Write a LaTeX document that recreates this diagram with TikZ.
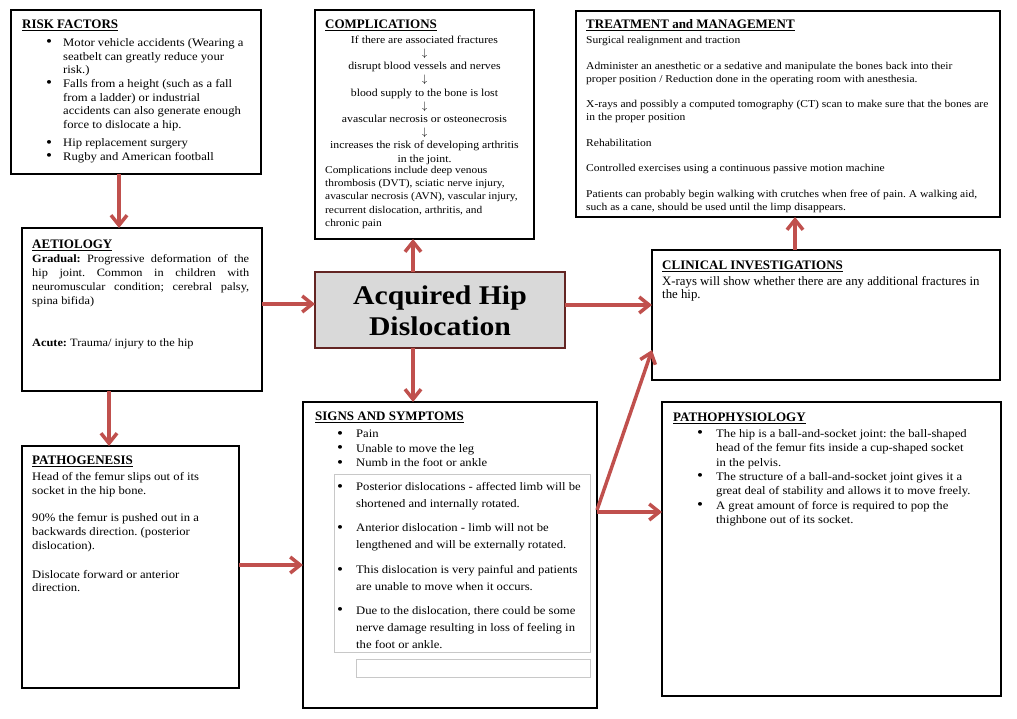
\documentclass[tikz,border=0pt]{standalone}
\usepackage{graphicx}
\usepackage{fontspec}
\setmainfont{Liberation Serif}[FakeStretch=1.1]
\newfontfamily\plainserif{Liberation Serif}
\usetikzlibrary{arrows.meta}
\frenchspacing
\definecolor{arrowred}{HTML}{C0504D}
\definecolor{centerborder}{HTML}{632523}
\definecolor{centerfill}{HTML}{D9D9D9}
\definecolor{thingray}{HTML}{C8C8C8}
\newcommand{\bigbullet}{\raisebox{-0.2pt}{\scalebox{1.35}{\textbullet}}}
\newcommand{\bl}{\makebox[17pt][l]{\bigbullet}}
\newcommand{\ind}{\hspace*{17pt}}
\newcommand{\sbl}{\makebox[19pt][l]{\bigbullet}}
\newcommand{\sind}{\hspace*{19pt}}
\begin{document}
\begin{tikzpicture}[x=1pt,y=-1pt,
  box/.style={draw=black,line width=2.5pt,fill=white,outer sep=0pt,inner sep=0pt,anchor=north west},
  thinbox/.style={draw=thingray,line width=0.8pt,outer sep=0pt,inner sep=0pt,anchor=north west},
  head/.style={anchor=north west,inner sep=0pt,font=\plainserif\fontsize{13}{15}\selectfont\bfseries},
  body/.style={anchor=north west,inner sep=0pt,align=left},
  arr/.style={draw=arrowred,line width=3.5pt,-{Straight Barb[length=10pt,width=16pt]}}
]
\useasboundingbox[fill=white] (0,0) rectangle (1017,719);

% boxes
\node[box,minimum width=250pt,minimum height=164pt] (risk) at (11,10) {};
\node[box,minimum width=219pt,minimum height=229pt] (comp) at (315,10) {};
\node[box,minimum width=424pt,minimum height=206pt] (treat) at (576,11) {};
\node[box,minimum width=240pt,minimum height=163pt] (aet) at (22,228) {};
\node[box,draw=centerborder,fill=centerfill,minimum width=250pt,minimum height=76pt] (center) at (315,272) {};
\node[box,minimum width=348pt,minimum height=130pt] (clin) at (652,250) {};
\node[box,minimum width=217pt,minimum height=242pt] (patho) at (22,446) {};
\node[box,minimum width=294pt,minimum height=306pt] (signs) at (303,402) {};
\node[box,minimum width=339pt,minimum height=294pt] (pphys) at (662,402) {};
\node[thinbox,minimum width=256pt,minimum height=178pt] (signsinner) at (334,474) {};
\node[thinbox,minimum width=234pt,minimum height=18pt] (signsblank) at (356,659) {};

% title
\node[font=\fontsize{27}{31}\selectfont\bfseries,align=center,inner sep=0pt] (title) at (440,311) {Acquired Hip\\Dislocation};

% risk factors
\node[head] (riskhead) at (22,19.5) {\underline{RISK FACTORS}};
\node[body,font=\fontsize{11.5}{13.6}\selectfont] (risktxt) at (46,38.5) {%
\bl Motor vehicle accidents (Wearing a\\
\ind seatbelt can greatly reduce your\\
\ind risk.)\\
\bl Falls from a height (such as a fall\\
\ind from a ladder) or industrial\\
\ind accidents can also generate enough\\
\ind force to dislocate a hip.\\[5pt]
\bl Hip replacement surgery\\
\bl Rugby and American football};

% complications
\node[head] (comphead) at (325,19.5) {\underline{COMPLICATIONS}};
\node[anchor=north,inner sep=0pt,align=center,font=\fontsize{10.7}{13.2}\selectfont] (compchain) at (424.5,35.5) {%
If there are associated fractures\\
$\downarrow$\\
disrupt blood vessels and nerves\\
$\downarrow$\\
blood supply to the bone is lost\\
$\downarrow$\\
avascular necrosis or osteonecrosis\\
$\downarrow$\\
increases the risk of developing arthritis\\
in the joint.};
\node[body,font=\fontsize{10.35}{13.3}\selectfont] (comptxt) at (325,166) {%
Complications include deep venous\\
thrombosis (DVT), sciatic nerve injury,\\
avascular necrosis (AVN), vascular injury,\\
recurrent dislocation, arthritis, and\\
chronic pain};

% treatment
\node[head] (treathead) at (586,19.5) {\underline{TREATMENT and MANAGEMENT}};
\node[body,font=\fontsize{10.5}{12.8}\selectfont] (treattxt) at (586,36.5) {%
Surgical realignment and traction\\[12.8pt]
Administer an anesthetic or a sedative and manipulate the bones back into their\\
proper position / Reduction done in the operating room with anesthesia.\\[12.8pt]
X-rays and possibly a computed tomography (CT) scan to make sure that the bones are\\
in the proper position\\[12.8pt]
Rehabilitation\\[12.8pt]
Controlled exercises using a continuous passive motion machine\\[12.8pt]
Patients can probably begin walking with crutches when free of pain. A walking aid,\\
such as a cane, should be used until the limp disappears.};

% aetiology
\node[head] (aethead) at (32,239.5) {\underline{AETIOLOGY}};
\node[body,font=\fontsize{11.2}{14}\selectfont] (aettxt) at (32,254.5) {%
\makebox[217pt][s]{\textbf{Gradual:} Progressive deformation of the}\\
\makebox[217pt][s]{hip joint. Common in children with}\\
\makebox[217pt][s]{neuromuscular condition; cerebral palsy,}\\
spina bifida)\\[14pt]
\mbox{}\\
\textbf{Acute:} Trauma/ injury to the hip};

% clinical investigations
\node[head] (clinhead) at (662,260.5) {\underline{CLINICAL INVESTIGATIONS}};
\node[body,font=\plainserif\fontsize{12.8}{13}\selectfont] (clintxt) at (662,276.5) {%
X-rays will show whether there are any additional fractures in\\
the hip.};

% pathogenesis
\node[head] (pathohead) at (32,456) {\underline{PATHOGENESIS}};
\node[body,font=\fontsize{11.5}{13.8}\selectfont] (pathotxt) at (32,472) {%
Head of the femur slips out of its\\
socket in the hip bone.\\[13.8pt]
90\% the femur is pushed out in a\\
backwards direction. (posterior\\
dislocation).\\[15pt]
Dislocate forward or anterior\\
direction.};

% signs and symptoms
\node[head] (signshead) at (315,411.5) {\underline{SIGNS AND SYMPTOMS}};
\node[body,font=\fontsize{11.5}{14.5}\selectfont] (signstop) at (337,430) {%
\sbl Pain\\
\sbl Unable to move the leg\\
\sbl Numb in the foot or ankle};
\node[body,font=\fontsize{11.5}{17}\selectfont] (signsin) at (337,482.5) {%
\sbl Posterior dislocations - affected limb will be\\
\sind shortened and internally rotated.\\[7pt]
\sbl Anterior dislocation - limb will not be\\
\sind lengthened and will be externally rotated.\\[8pt]
\sbl This dislocation is very painful and patients\\
\sind are unable to move when it occurs.\\[6.5pt]
\sbl Due to the dislocation, there could be some\\
\sind nerve damage resulting in loss of feeling in\\
\sind the foot or ankle.};

% pathophysiology
\node[head] (pphyshead) at (673,412.5) {\underline{PATHOPHYSIOLOGY}};
\node[body,font=\fontsize{11.5}{14.3}\selectfont] (pphystxt) at (697,429.5) {%
\sbl The hip is a ball-and-socket joint: the ball-shaped\\
\sind head of the femur fits inside a cup-shaped socket\\
\sind in the pelvis.\\
\sbl The structure of a ball-and-socket joint gives it a\\
\sind great deal of stability and allows it to move freely.\\
\sbl A great amount of force is required to pop the\\
\sind thighbone out of its socket.};

% connectors
\draw[arr] ([xshift=-17pt]risk.south) -- ([xshift=-17pt]risk.south |- aet.north);
\draw[arr] ([yshift=5.5pt]aet.east) -- ([yshift=5.5pt]aet.east -| center.west);
\draw[arr] ([xshift=-33pt]aet.south) -- ([xshift=-33pt]aet.south |- patho.north);
\draw[arr] ([xshift=-27pt]center.north) -- ([xshift=-27pt]center.north |- comp.south);
\draw[arr] ([xshift=-27pt]center.south) -- ([xshift=-27pt]center.south |- signs.north);
\draw[arr] ([yshift=5pt]center.east) -- ([yshift=5pt]center.east -| clin.west);
\draw[arr] ([xshift=-31pt]clin.north) -- ([xshift=-31pt]clin.north |- treat.south);
\draw[arr] ([yshift=45pt]signs.east) -- ([yshift=-35pt]clin.west);
\draw[arr] ([yshift=43pt]signs.east) -- ([yshift=43pt]signs.east -| pphys.west);
\draw[arr] ([yshift=2pt]patho.east) -- ([yshift=2pt]patho.east -| signs.west);
\end{tikzpicture}
\end{document}
